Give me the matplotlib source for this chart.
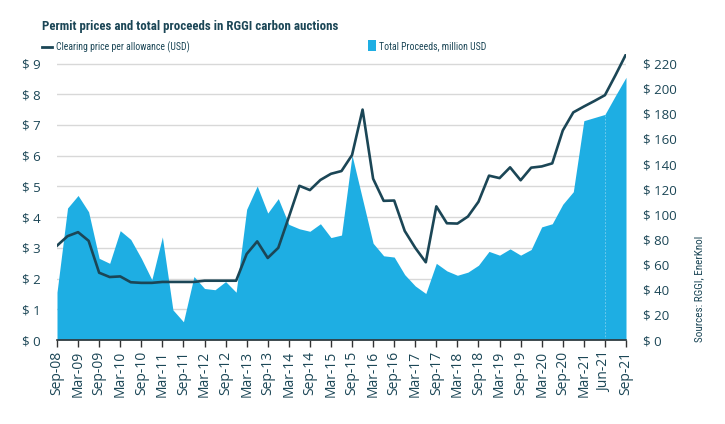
import numpy as np
import matplotlib.pyplot as plt
from matplotlib.lines import Line2D
from matplotlib.patches import Rectangle

plt.rcParams['font.family'] = ['Open Sans', 'DejaVu Sans']

# quarterly auctions, tick label on every second point
tick_labels = ["Sep-08", "Mar-09", "Sep-09", "Mar-10", "Sep-10", "Mar-11", "Sep-11",
               "Mar-12", "Sep-12", "Mar-13", "Sep-13", "Mar-14", "Sep-14", "Mar-15",
               "Sep-15", "Mar-16", "Sep-16", "Mar-17", "Sep-17", "Mar-18", "Sep-18",
               "Mar-19", "Sep-19", "Mar-20", "Sep-20", "Mar-21", "Jun-21", "Sep-21"]

# clearing price per allowance, USD
price = [3.07, 3.38, 3.51, 3.23, 2.19, 2.05, 2.07, 1.88, 1.86, 1.86,
         1.89, 1.89, 1.89, 1.89, 1.93, 1.93, 1.93, 1.93, 2.80, 3.21,
         2.67, 3.00, 4.00, 5.02, 4.88, 5.21, 5.41, 5.50, 6.02, 7.50,
         5.25, 4.53, 4.54, 3.55, 3.00, 2.53, 4.35, 3.80, 3.79, 4.02,
         4.50, 5.35, 5.27, 5.62, 5.20, 5.61, 5.65, 5.75, 6.82, 7.41,
         7.60, 7.78, 7.97, 8.62, 9.30]

# total proceeds, million USD
proceeds = [38, 105, 115, 102, 65, 61, 87, 80, 65, 48,
            82, 24, 14.5, 50.5, 41, 40, 46.5, 38, 104, 122.5,
            101, 112.5, 92, 88.5, 86.5, 92.5, 81.5, 83.5, 147, 112,
            77, 67, 66, 52, 43, 37, 61, 55, 51.5, 54,
            59.5, 70.5, 67.5, 72.5, 67.5, 72, 90, 92.5, 108, 118,
            174.5, 177, 179.5, 194.5, 209]

dark = "#1b4656"
blue = "#1eaee3"
narrow = ['Roboto Condensed', 'Liberation Sans Narrow', 'Roboto', 'DejaVu Sans']

x = np.arange(len(price))
scale = 220 / 9  # million USD per 1 USD on the left axis

fig = plt.figure(figsize=(7.25, 4.24), dpi=100)
ax = fig.add_axes([57 / 725, 1 - 340 / 424, (626 - 57) / 725, (340 - 54.3) / 424])

ax.fill_between(x, np.array(proceeds) / scale, color=blue, lw=0, zorder=1)
ax.vlines(52, 0, proceeds[52] / scale, color="#7fd0ef", lw=0.6,
          linestyles=(0, (2, 2)), zorder=1.5)
ax.plot(x, price, color=dark, lw=1.9, zorder=3)

ax.set_xlim(0, len(price) - 1)
ax.set_ylim(0, 9.3)
ax.set_yticks(range(10))
ax.set_yticklabels([f"$ {v}" for v in range(10)])
ax.grid(axis="y", color="#d8d8d8", lw=1)
ax.set_axisbelow(True)
for s in ["top", "left", "right"]:
    ax.spines[s].set_visible(False)
ax.spines["bottom"].set_color("#333333")
ax.spines["bottom"].set_linewidth(1.2)
ax.tick_params(axis="y", length=0, pad=12, labelsize=9.5, labelcolor=dark)

ax.set_xticks(x[::2])
ax.set_xticklabels(tick_labels, rotation=90)
ax.tick_params(axis="x", length=5, width=1, color="#333333", pad=3,
               labelsize=10, labelcolor=dark)

sec = ax.secondary_yaxis("right", functions=(lambda p: p * scale, lambda m: m / scale))
sec.set_yticks(range(0, 221, 20))
sec.set_yticklabels([f"$ {v}" for v in range(0, 221, 20)])
sec.spines["right"].set_visible(False)
sec.tick_params(axis="y", length=0, pad=12, labelsize=9.5, labelcolor=dark)

fig.text(42 / 725, 1 - 30 / 424, "Permit prices and total proceeds in RGGI carbon auctions",
         family=narrow, fontsize=9.3, fontweight="bold", color=dark, va="baseline")

fig.add_artist(Line2D([41.7 / 725, 51.7 / 725], [1 - 46.7 / 424] * 2,
                      color=dark, lw=2, transform=fig.transFigure))
fig.text(56 / 725, 1 - 47 / 424, "Clearing price per allowance (USD)",
         family=narrow, fontsize=7, color=dark, va="center")

fig.add_artist(Rectangle((367.7 / 725, 1 - 51 / 424), 8.5 / 725, 11 / 424,
                         color=blue, lw=0, transform=fig.transFigure))
fig.text(379 / 725, 1 - 46 / 424, "Total Proceeds, million USD",
         family=narrow, fontsize=7, color=dark, va="center")

fig.text(699 / 725, 1 - 289 / 424, "Sources: RGGI, EnerKnol", rotation=90,
         family=narrow, fontsize=8, color=dark, ha="center", va="center")

fig.savefig("out.png", dpi=100)
